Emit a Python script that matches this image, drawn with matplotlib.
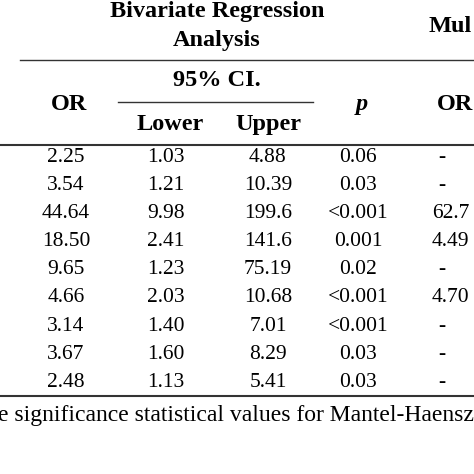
import matplotlib.pyplot as plt

odds = ["2.25", "3.54", "44.64", "18.50", "9.65", "4.66", "3.14", "3.67", "2.48"]
lower = ["1.03", "1.21", "9.98", "2.41", "1.23", "2.03", "1.40", "1.60", "1.13"]
upper = ["4.88", "10.39", "199.6", "141.6", "75.19", "10.68", "7.01", "8.29", "5.41"]
pvals = ["0.06", "0.03", "<0.001", "0.001", "0.02", "<0.001", "<0.001", "0.03", "0.03"]
multi_or = ["-", "-", "62.7", "4.49", "-", "4.70", "-", "-", "-"]

plt.rcParams['font.family'] = ['Liberation Serif', 'DejaVu Serif']
fig = plt.figure(figsize=(4.74, 4.74), dpi=100)
ax = fig.add_axes([0, 0, 1, 1])
ax.set_xlim(0, 474)
ax.set_ylim(474, 0)
ax.axis("off")

hs = 17.5
fs = 15.5
ax.text(217, 11, "Bivariate Regression", ha="center", va="center", fontsize=hs, fontweight="bold")
ax.text(217, 40, "Analysis", ha="center", va="center", fontsize=hs, fontweight="bold")
ax.text(429, 26, "Mul", ha="left", va="center", fontsize=hs, fontweight="bold")
ax.plot([20, 474], [60, 60], color="#333", lw=1)
ax.text(217, 80, "95% CI.", ha="center", va="center", fontsize=hs, fontweight="bold")
ax.plot([118, 313], [102, 102], color="#333", lw=1)
ax.text(69, 104, "OR", ha="center", va="center", fontsize=hs, fontweight="bold")
ax.text(362, 104, "p", ha="center", va="center", fontsize=hs, fontweight="bold", style="italic")
ax.text(437, 104, "OR", ha="left", va="center", fontsize=hs, fontweight="bold")
ax.text(170, 124, "Lower", ha="center", va="center", fontsize=hs, fontweight="bold")
ax.text(268, 124, "Upper", ha="center", va="center", fontsize=hs, fontweight="bold")
ax.plot([0, 474], [145, 145], color="#333", lw=1.5)

for i in range(len(odds)):
    y = 157 + i * 28.2
    ax.text(66, y, odds[i], ha="center", va="center", fontsize=fs)
    ax.text(166, y, lower[i], ha="center", va="center", fontsize=fs)
    ax.text(268, y, upper[i], ha="center", va="center", fontsize=fs)
    ax.text(358, y, pvals[i], ha="center", va="center", fontsize=fs)
    ax.text(438 if multi_or[i] == "-" else 432, y, multi_or[i], ha="left", va="center", fontsize=fs)

ax.plot([0, 474], [396, 396], color="#333", lw=1.5)
ax.text(-2, 416, "e significance statistical values for Mantel-Haenszel", ha="left", va="center", fontsize=17)

fig.savefig("out.png", dpi=100, facecolor="white")
